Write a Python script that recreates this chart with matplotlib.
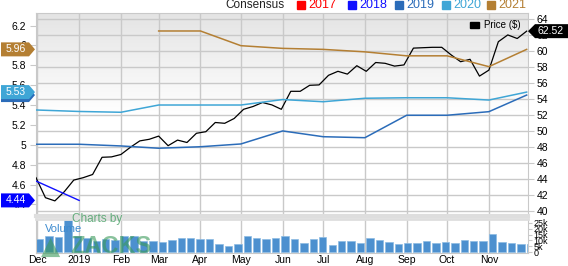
import numpy as np
import pandas as pd
import matplotlib
matplotlib.use("Agg")
import matplotlib.pyplot as plt
from matplotlib.patches import Polygon, Rectangle, Patch
from matplotlib.colors import LinearSegmentedColormap

plt.rcParams['font.family'] = ['Liberation Sans', 'DejaVu Sans']

# weekly price and volume (Fridays)
week_dates = pd.date_range("2018-11-30", periods=53, freq="7D")
price = [44.2, 41.7, 41.3, 42.45, 43.9, 44.2, 44.6, 46.75, 46.8, 47.1,
         48.0, 48.8, 49.0, 49.4, 48.2, 48.9, 48.6, 49.75, 49.95, 51.1,
         51.0, 51.6, 52.75, 53.1, 53.6, 53.3, 52.75, 55.0, 55.0, 55.75,
         55.8, 57.0, 57.5, 57.15, 58.2, 57.5, 58.6, 58.5, 58.15, 58.3,
         60.4, 60.45, 60.5, 60.5, 59.55, 58.7, 59.0, 56.9, 57.65, 61.2,
         62.05, 61.6, 62.52]
volume_k = [10.9, 14.1, 12.5, 27.2, 13.6, 12.3, 9.5, 11.0, 10.0, 14.0,
            13.5, 9.5, 9.5, 8.7, 10.0, 11.9, 11.9, 10.9, 10.9, 6.8,
            5.4, 6.8, 13.6, 11.7, 10.9, 11.9, 13.6, 10.9, 8.2, 11.5,
            12.8, 6.6, 9.3, 9.5, 7.6, 12.3, 10.6, 8.4, 7.4, 8.2,
            7.6, 9.5, 7.6, 8.4, 8.2, 10.6, 9.3, 9.6, 15.5, 9.1,
            7.6, 7.4, 7.0]

# consensus EPS estimates
cons_dates = pd.to_datetime(["2018-11-30", "2019-01-01", "2019-02-01", "2019-03-01",
                             "2019-04-01", "2019-05-01", "2019-06-01", "2019-07-01",
                             "2019-08-01", "2019-09-01", "2019-10-01", "2019-11-01",
                             "2019-11-29"])
est_2018 = [4.635, 4.44]
est_2019 = [5.005, 5.005, 4.988, 4.965, 4.98, 5.008, 5.139, 5.081, 5.071,
            5.297, 5.297, 5.333, 5.50]
est_2020 = [5.35, 5.335, 5.327, 5.40, 5.40, 5.40, 5.455, 5.433, 5.468,
            5.473, 5.473, 5.45, 5.53]
est_2021 = [6.145, 6.145, 5.997, 5.97, 5.96, 5.935, 5.895, 5.895, 5.786, 5.96]

years = ["2017", "2018", "2019", "2020", "2021"]
year_colors = ["#ff0000", "#1010ff", "#2b6cb9", "#3fa6d6", "#b47f33"]

month_ticks = pd.date_range("2018-12-01", periods=12, freq="MS")
month_labels = ["Dec", "2019", "Feb", "Mar", "Apr", "May", "Jun", "Jul",
                "Aug", "Sep", "Oct", "Nov"]

W, H = 568, 266
fig = plt.figure(figsize=(W / 100, H / 100), dpi=100)
fig.patch.set_facecolor("white")

grid_c = "#c9c9c9"
axp = fig.add_axes([36 / W, 1 - 216 / H, 492 / W, 203 / H])
axv = fig.add_axes([36 / W, 1 - 253 / H, 492 / W, 34 / H], sharex=axp)
axc = axp.twinx()

# background gradient
grad = np.linspace(0, 1, 256).reshape(-1, 1)
cmap = LinearSegmentedColormap.from_list("bg", [(0, "#e4e4e4"), (0.5, "#ffffff"), (1, "#ffffff")])
axp.imshow(grad, cmap=cmap, extent=[0, 1, 0, 1], transform=axp.transAxes,
           aspect="auto", zorder=0)

xlim = (pd.Timestamp("2018-11-30"), pd.Timestamp("2019-11-30"))

# price pane (right axis)
axp.plot(week_dates, price, color="black", lw=0.9, zorder=3)
axp.set_xlim(*xlim)
axp.set_ylim(39.41, 64.79)
axp.yaxis.tick_right()
axp.yaxis.set_label_position("right")
axp.set_yticks(np.arange(40, 65, 2))
axp.set_xticks(month_ticks)
axp.grid(True, color=grid_c, lw=1)
axp.set_axisbelow(True)
axp.tick_params(axis="x", labelbottom=False, length=0)
axp.tick_params(axis="y", labelsize=7.5, length=4, color=grid_c, pad=2)
for s in axp.spines.values():
    s.set_color(grid_c)
axp.spines["bottom"].set_color("#dedede")
axp.spines["bottom"].set_linewidth(3)
axp.legend([Patch(color="black")], ["Price ($)"], loc="upper right", frameon=False,
           fontsize=7, handlelength=1.0, handleheight=0.55, handletextpad=0.5,
           borderaxespad=0.35)

# consensus (left axis)
axc.yaxis.tick_left()
axc.plot(cons_dates[:2], est_2018, color=year_colors[1], lw=1)
axc.plot(cons_dates, est_2019, color=year_colors[2], lw=1.1)
axc.plot(cons_dates, est_2020, color=year_colors[3], lw=1.1)
axc.plot(cons_dates[3:], est_2021, color=year_colors[4], lw=1.1)
axc.set_ylim(4.283, 6.326)
cons_ticks = np.round(np.arange(4.4, 6.21, 0.2), 1)
axc.set_yticks(cons_ticks)
axc.set_yticklabels(["%g" % v for v in cons_ticks])
axc.tick_params(axis="y", labelsize=7.5, length=4, color=grid_c, pad=3)
for s in axc.spines.values():
    s.set_visible(False)
axc.set_xlim(*xlim)

# volume pane
axv.bar(week_dates, volume_k, width=5.5, align="edge", color="#4c90cf",
        edgecolor="#8cbbe3", lw=0.5, zorder=2)
axv.set_ylim(-0.5, 28)
axv.yaxis.tick_right()
axv.set_yticks([0, 5, 10, 15, 20, 25])
axv.set_yticklabels(["0", "5k", "10k", "15k", "20k", "25k"])
axv.tick_params(axis="y", labelsize=6.5, length=3, color=grid_c, pad=1)
axv.set_xticks(month_ticks)
axv.set_xticklabels(month_labels)
axv.tick_params(axis="x", labelsize=7.5, length=0, pad=1.5)
axv.grid(True, axis="x", color=grid_c, lw=1)
axv.set_axisbelow(True)
for s in axv.spines.values():
    s.set_color(grid_c)
axv.spines["top"].set_color("#dedede")
axv.spines["top"].set_linewidth(2)
axv.set_xlim(*xlim)

# watermark
axv.text(0.018, 0.62, "Volume", transform=axv.transAxes, fontsize=8,
         color="#3d8bd0", zorder=5)
axv.text(0.073, 0.9, "Charts by", transform=axv.transAxes, fontsize=8.5,
         color="#3a9a5a", alpha=0.75, zorder=5)
axv.text(0.07, 0.0, "ZACKS", transform=axv.transAxes, fontsize=17, weight="bold",
         color="#3a9a5a", alpha=0.6, zorder=5)
axv.text(0.01, -0.04, "\u25b2", transform=axv.transAxes, fontsize=18,
         color="#3a9a5a", alpha=0.6, zorder=5, family="DejaVu Sans")

# header legend
fig.text(284 / W, 1 - 5 / H, "Consensus", fontsize=8.5, ha="right", va="center",
         color="#222222")
leg_x = [297, 348, 395, 442, 487]
for x, yr, c in zip(leg_x, years, year_colors):
    fig.patches.append(Rectangle((x / W, 1 - 9 / H), 8 / W, 8 / H,
                                 transform=fig.transFigure, color=c))
    fig.text((x + 11) / W, 1 - 5 / H, yr, fontsize=9, color=c, va="center")


# value tags
def fig_y(ax, v):
    return fig.transFigure.inverted().transform(ax.transData.transform((0, v)))[1]


def left_tag(v, c, label=True):
    y = fig_y(axc, v)
    h = 7 / H
    pts = [(1 / W, y - h), (29 / W, y - h), (35 / W, y), (29 / W, y + h), (1 / W, y + h)]
    fig.patches.append(Polygon(pts, closed=True, transform=fig.transFigure,
                               facecolor=c, edgecolor="none"))
    if label:
        fig.text(16 / W, y, "%.2f" % v, color="white", fontsize=7.5,
                 ha="center", va="center")


left_tag(est_2019[-1], year_colors[2], label=False)  # hidden behind 2020 tag
left_tag(est_2020[-1], year_colors[3])
left_tag(est_2021[-1], year_colors[4])
left_tag(est_2018[-1], "#0000ff")

yp = fig_y(axp, price[-1])
h = 7 / H
fig.patches.append(Polygon([(528 / W, yp), (535 / W, yp - h), (568 / W, yp - h),
                            (568 / W, yp + h), (535 / W, yp + h)], closed=True,
                           transform=fig.transFigure, facecolor="black"))
fig.text(551 / W, yp, "%.2f" % price[-1], color="white", fontsize=7.5,
         ha="center", va="center")

fig.savefig("out.png", dpi=100)
